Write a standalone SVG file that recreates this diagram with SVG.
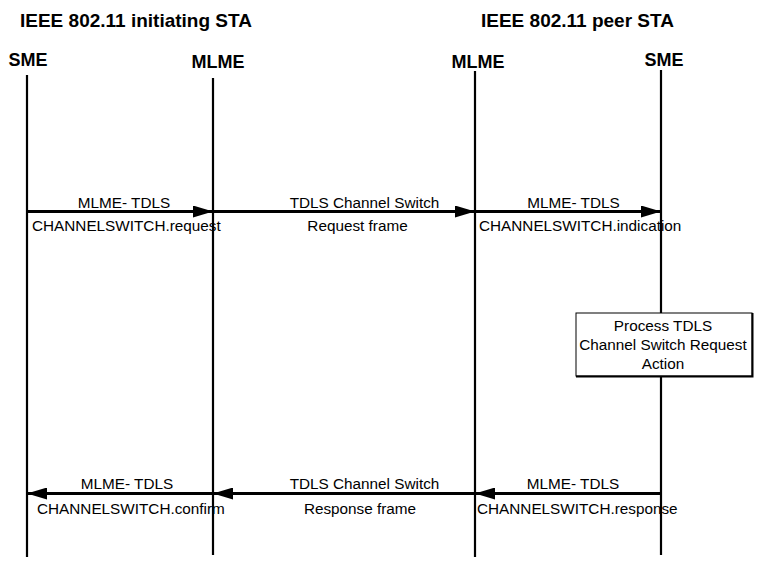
<svg xmlns="http://www.w3.org/2000/svg" width="758" height="563" viewBox="0 0 758 563">
<defs>
<style>
.title{font-family:"Liberation Sans",Arial,sans-serif;font-weight:bold;font-size:18px;fill:#000}
.head{font-size:19px}
.lbl{font-family:"Liberation Sans",Arial,sans-serif;font-size:15.3px;fill:#000}
.life{stroke:#000;stroke-width:2.2;fill:none}
.msg{stroke:#000;stroke-width:3;fill:none}
</style>
<marker id="ah" viewBox="0 0 20 12" refX="20" refY="6" markerWidth="20" markerHeight="12" markerUnits="userSpaceOnUse" orient="auto">
<path d="M0,0 L20,6 L0,12 Z" fill="#000"/>
</marker>
</defs>
<rect width="758" height="563" fill="#fff"/>
<g id="titles">
<text class="title head" x="20" y="27">IEEE 802.11 initiating STA</text>
<text class="title head" x="481" y="27">IEEE 802.11 peer STA</text>
</g>
<g id="sme-left">
<text class="title" x="28" y="66" text-anchor="middle">SME</text>
<line class="life" x1="27" y1="75" x2="27" y2="557"/>
</g>
<g id="mlme-left">
<text class="title" x="218" y="68" text-anchor="middle">MLME</text>
<line class="life" x1="213" y1="78" x2="213" y2="555"/>
</g>
<g id="mlme-right">
<text class="title" x="478" y="68" text-anchor="middle">MLME</text>
<line class="life" x1="475" y1="71" x2="475" y2="557"/>
</g>
<g id="sme-right">
<text class="title" x="664" y="66" text-anchor="middle">SME</text>
<line class="life" x1="661" y1="70" x2="661" y2="555"/>
</g>
<g id="connectors">
<line class="msg" x1="27" y1="211.5" x2="213" y2="211.5" marker-end="url(#ah)"/>
<line class="msg" x1="213" y1="211.5" x2="475" y2="211.5" marker-end="url(#ah)"/>
<line class="msg" x1="475" y1="211.5" x2="661" y2="211.5" marker-end="url(#ah)"/>
<line class="msg" x1="661" y1="493.5" x2="475" y2="493.5" marker-end="url(#ah)"/>
<line class="msg" x1="475" y1="493.5" x2="213" y2="493.5" marker-end="url(#ah)"/>
<line class="msg" x1="213" y1="493.5" x2="27" y2="493.5" marker-end="url(#ah)"/>
<text class="lbl" x="124" y="208" text-anchor="middle">MLME- TDLS</text>
<text class="lbl" x="32" y="231">CHANNELSWITCH.request</text>
<text class="lbl" x="364.5" y="208" text-anchor="middle">TDLS Channel Switch</text>
<text class="lbl" x="357.5" y="231" text-anchor="middle">Request frame</text>
<text class="lbl" x="573.5" y="208" text-anchor="middle">MLME- TDLS</text>
<text class="lbl" x="479" y="231">CHANNELSWITCH.indication</text>
<text class="lbl" x="573" y="489" text-anchor="middle">MLME- TDLS</text>
<text class="lbl" x="477" y="514">CHANNELSWITCH.response</text>
<text class="lbl" x="364.5" y="489" text-anchor="middle">TDLS Channel Switch</text>
<text class="lbl" x="360" y="514" text-anchor="middle">Response frame</text>
<text class="lbl" x="127" y="489" text-anchor="middle">MLME- TDLS</text>
<text class="lbl" x="37" y="514">CHANNELSWITCH.confirm</text>
</g>
<g id="process-box">
<rect x="576" y="313" width="176" height="63" fill="#fff" stroke="#000" stroke-width="1"/>
<polyline points="752.5,313 752.5,376.5 576,376.5" fill="none" stroke="#000" stroke-width="2"/>
<text class="lbl" x="663" y="331" text-anchor="middle">Process TDLS</text>
<text class="lbl" x="663" y="350" text-anchor="middle">Channel Switch Request</text>
<text class="lbl" x="663" y="369" text-anchor="middle">Action</text>
</g>
</svg>
